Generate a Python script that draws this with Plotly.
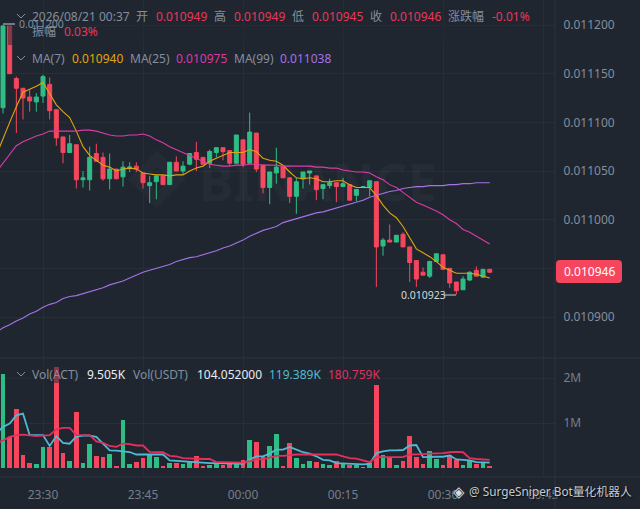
import numpy as np
import pandas as pd
import plotly.graph_objects as go

# ---- data (prices in millionths); the first candle lies just off the left edge ----
opens = [11095,11115,11199,11145,11135,11126,11121,11127,11139,11113,11085,11069,11077,11041,11041,11068,11064,11042,11052,11044,11053,11055,11048,11035,11039,11045,11036,11059,11050,11057,11069,11064,11058,11069,11074,11071,11058,11082,11058,11089,11056,11033,11048,11055,11043,11024,11042,11048,11045,11032,11035,11038,11034,11036,11025,11033,11033,11039,10973,10979,10977,10985,10972,10958,10946,10942,10957,10964,10950,10936,10928,10938,10948,10941,10949]
highs = [11118,11200,11199,11147,11135,11134,11130,11149,11146,11113,11085,11087,11077,11050,11075,11078,11069,11068,11052,11060,11059,11059,11048,11045,11045,11045,11059,11065,11060,11068,11080,11064,11072,11074,11074,11071,11087,11082,11110,11089,11056,11049,11074,11055,11043,11043,11049,11050,11045,11036,11042,11038,11043,11036,11031,11034,11040,11039,10981,10995,10984,10987,10972,10958,10951,10958,10965,10964,10950,10936,10942,10947,10952,10949,10949]
lows = [11090,11109,11150,11089,11103,11111,11111,11120,11103,11076,11058,11069,11032,11033,11030,11060,11040,11031,11042,11034,11049,11049,11032,11017,11021,11036,11036,11050,11046,11056,11050,11057,11053,11064,11061,11055,11058,11054,11058,11049,11027,11016,11037,11043,11017,11006,11032,11036,11020,11021,11032,11018,11034,11020,11019,11033,11024,10931,10963,10977,10977,10972,10936,10931,10943,10940,10957,10949,10930,10923,10928,10937,10942,10940,10945]
closes = [11115,11199,11150,11135,11125,11122,11126,11147,11112,11084,11069,11078,11041,11043,11064,11060,11042,11052,11042,11054,11054,11052,11038,11038,11045,11036,11059,11050,11055,11068,11062,11057,11070,11074,11070,11058,11087,11057,11090,11052,11033,11049,11054,11043,11024,11039,11049,11050,11031,11036,11038,11034,11037,11020,11031,11034,11040,10972,10979,10977,10984,10972,10956,10939,10943,10957,10965,10949,10935,10927,10939,10946,10942,10949,10946]
ma7 = [11066,11084,11100,11116,11131,11134,11137,11141,11130,11118,11111,11105,11091,11075,11066,11061,11056,11054,11050,11052,11053,11052,11048,11047,11046,11046,11045,11046,11046,11050,11053,11055,11060,11063,11066,11069,11069,11069,11072,11070,11063,11061,11060,11056,11049,11043,11042,11043,11042,11039,11039,11040,11040,11036,11033,11033,11033,11025,11015,11007,11002,10993,10982,10970,10966,10962,10957,10951,10948,10945,10945,10945,10944,10942,10940]
ma25 = [11049,11058,11066,11076,11080,11083,11086,11088,11091,11091,11091,11091,11091,11092,11092,11091,11089,11087,11086,11086,11087,11087,11088,11086,11082,11079,11075,11072,11069,11066,11063,11060,11057,11056,11055,11055,11056,11056,11057,11057,11056,11056,11056,11055,11055,11055,11055,11055,11054,11054,11053,11053,11051,11050,11049,11049,11048,11044,11041,11036,11033,11028,11023,11018,11015,11012,11009,11005,11000,10996,10990,10987,10983,10979,10975]
ma99 = [10884,10889,10892,10896,10899,10903,10906,10910,10913,10915,10919,10921,10922,10924,10926,10928,10930,10933,10935,10937,10940,10943,10946,10948,10950,10952,10954,10957,10959,10961,10962,10964,10966,10968,10971,10973,10976,10979,10983,10986,10989,10991,10993,10997,10999,11001,11003,11005,11007,11008,11010,11012,11014,11016,11018,11020,11023,11025,11027,11029,11030,11032,11033,11034,11034,11035,11035,11035,11036,11036,11037,11037,11038,11038,11038]
# ---- volumes (millions) ----
vol = [0.20,2.10,0.69,1.32,0.30,0.12,0.10,0.47,0.47,2.24,0.34,0.16,1.24,0.12,0.54,0.26,0.24,0.31,0.04,1.06,0.09,0.13,0.22,0.31,0.24,0.04,0.11,0.11,0.10,0.13,0.26,0.04,0.07,0.10,0.07,0.10,0.09,0.17,0.63,0.58,0.24,0.50,0.76,0.04,0.56,0.22,0.10,0.15,0.13,0.08,0.06,0.15,0.10,0.06,0.07,0.02,0.12,1.84,0.30,0.22,0.07,0.16,0.71,0.24,0.09,0.37,0.21,0.06,0.28,0.17,0.07,0.17,0.08,0.12,0.03]
vol_ma_a = [0.78,0.91,0.99,1.17,1.21,0.73,0.73,0.73,0.49,0.71,0.56,0.54,0.70,0.72,0.72,0.69,0.54,0.39,0.385,0.37,0.355,0.30,0.30,0.30,0.30,0.30,0.17,0.16,0.15,0.13,0.13,0.11,0.11,0.11,0.11,0.10,0.10,0.09,0.19,0.26,0.26,0.32,0.41,0.41,0.47,0.41,0.35,0.32,0.26,0.18,0.17,0.11,0.10,0.09,0.08,0.08,0.09,0.33,0.37,0.39,0.39,0.40,0.50,0.51,0.24,0.25,0.25,0.25,0.28,0.19,0.18,0.17,0.13,0.13,0.119]
vol_ma_b = [0.55,0.61,0.69,0.73,0.74,0.73,0.71,0.72,0.73,0.86,0.89,0.89,0.73,0.73,0.73,0.59,0.56,0.49,0.47,0.54,0.53,0.50,0.50,0.36,0.35,0.35,0.27,0.26,0.22,0.21,0.21,0.20,0.20,0.13,0.13,0.13,0.12,0.12,0.15,0.19,0.19,0.23,0.27,0.27,0.29,0.30,0.30,0.30,0.30,0.30,0.30,0.30,0.26,0.22,0.21,0.17,0.13,0.24,0.24,0.24,0.24,0.24,0.30,0.30,0.31,0.32,0.32,0.33,0.35,0.36,0.35,0.22,0.20,0.19,0.181]
price_ticks = [0.0109, 0.01095, 0.011, 0.01105, 0.0111, 0.01115, 0.0112]
# the 0.010950 label sits behind the last-price tag in the reference
price_tick_text = ["0.010900", "", "0.011000", "0.011050", "0.011100", "0.011150", "0.011200"]
vol_ticks = [1e6, 2e6]
vol_tick_text = ["1M", "2M"]

times = pd.date_range("2026-08-20 23:23", periods=len(opens), freq="min")
to_price = lambda a: np.array(a) / 1e6

BG = "#1f2630"
GRID = "#272e39"
BORDER = "#2c333f"
UP = "#2ebd85"
DOWN = "#f6465d"
GRAY = "#848e9c"
FONT = "Noto Sans, Noto Sans CJK SC, sans-serif"

# pixel layout
W, H, PW, PH = 640, 509, 555, 477
SPLIT_T, SPLIT_B = 358, 359
px = lambda x: x / PW
py = lambda y: (PH - y) / PH

fig = go.Figure()
fig.add_trace(go.Candlestick(
    x=times, open=to_price(opens), high=to_price(highs), low=to_price(lows), close=to_price(closes),
    increasing=dict(line=dict(color=UP, width=1), fillcolor=UP),
    decreasing=dict(line=dict(color=DOWN, width=1), fillcolor=DOWN),
    whiskerwidth=0, xaxis="x", yaxis="y", showlegend=False))
for series, col in ((ma7, "#e0a50e"), (ma25, "#dc3aa6"), (ma99, "#a472e6")):
    fig.add_trace(go.Scatter(x=times, y=to_price(series), mode="lines", showlegend=False,
                             line=dict(color=col, width=1.1), xaxis="x", yaxis="y"))
bar_cols = [UP if c >= o else DOWN for o, c in zip(opens, closes)]
fig.add_trace(go.Bar(x=times, y=np.array(vol) * 1e6, marker=dict(color=bar_cols, line=dict(width=0)),
                     width=60000 * 0.72, xaxis="x2", yaxis="y2", showlegend=False))
fig.add_trace(go.Scatter(x=times, y=np.array(vol_ma_a) * 1e6, mode="lines", showlegend=False,
                         line=dict(color="#52b9d3", width=1.8), xaxis="x2", yaxis="y2"))
fig.add_trace(go.Scatter(x=times, y=np.array(vol_ma_b) * 1e6, mode="lines", showlegend=False,
                         line=dict(color="#e0315f", width=1.8), xaxis="x2", yaxis="y2"))

t0 = pd.Timestamp("2026-08-20 23:30")
xr = [t0 + pd.Timedelta(minutes=-43 / 6.667), t0 + pd.Timedelta(minutes=(555 - 43) / 6.667)]
common_x = dict(range=xr, type="date", dtick=900000, tick0="2026-08-20 23:30:00", gridcolor=GRID,
                gridwidth=1, zeroline=False, showline=False, rangeslider=dict(visible=False))
p_at = lambda y: (11225.7 - 1.0274 * y) / 1e6
v_at = lambda y: (468 - y) / 45 * 1e6

fig.update_layout(
    width=W, height=H, margin=dict(l=0, r=W - PW, t=0, b=H - PH),
    paper_bgcolor=BG, plot_bgcolor=BG, bargap=0, boxgap=0.2, boxgroupgap=0.25,
    font=dict(family=FONT, size=12, color=GRAY),
    xaxis=dict(**common_x, domain=[0, 1], anchor="y", showticklabels=False),
    xaxis2=dict(**common_x, domain=[0, 1], anchor="y2", matches="x", tickformat="%H:%M",
                ticks="outside", ticklen=7, tickcolor=BG, tickfont=dict(size=12, color="#767e8b")),
    yaxis=dict(domain=[py(SPLIT_T), 1], range=[p_at(SPLIT_T), p_at(0)], side="right", tickvals=price_ticks,
               ticktext=price_tick_text, gridcolor=GRID, zeroline=False, ticks="outside", ticklen=5, tickcolor=BG,
               tickfont=dict(size=12, color=GRAY), anchor="x"),
    yaxis2=dict(domain=[0, py(SPLIT_B)], range=[v_at(PH), v_at(SPLIT_B)], side="right", tickvals=vol_ticks,
                ticktext=vol_tick_text, gridcolor=GRID, zeroline=False, ticks="outside", ticklen=5, tickcolor=BG,
                tickfont=dict(size=12, color="#767e8b"), anchor="x2"),
)

shapes = []
# translucent legend backgrounds
for x0, y0, x1, y1 in ((8, 4, 505, 45), (8, 365, 385, 383)):
    shapes.append(dict(type="rect", xref="paper", yref="paper", x0=px(x0), x1=px(x1), y0=py(y0), y1=py(y1),
                       fillcolor=BG, opacity=0.5, line_width=0, layer="above"))
# separators
for y in (358, 477):
    shapes.append(dict(type="line", xref="paper", yref="paper", x0=0, x1=px(W), y0=py(y), y1=py(y),
                       line=dict(color=BORDER, width=1)))
shapes.append(dict(type="line", xref="paper", yref="paper", x0=1, x1=1, y0=py(0), y1=py(H),
                   line=dict(color=BORDER, width=1)))
# min/max markers
shapes.append(dict(type="line", xref="paper", yref="paper", x0=px(3), x1=px(15), y0=py(24), y1=py(24),
                   line=dict(color="#c8ccd2", width=1)))
shapes.append(dict(type="line", xref="paper", yref="paper", x0=px(444), x1=px(456), y0=py(295), y1=py(295),
                   line=dict(color="#c8ccd2", width=1)))
# price tag (rounded)
def rr(x0, y0, x1, y1, r):
    a, b, c, d = px(x0), px(x1), py(y0), py(y1)
    rx, ry = r / PW, r / PH
    return (f"M{a+rx},{c} L{b-rx},{c} Q{b},{c} {b},{c-ry} L{b},{d+ry} Q{b},{d} {b-rx},{d} "
            f"L{a+rx},{d} Q{a},{d} {a},{d+ry} L{a},{c-ry} Q{a},{c} {a+rx},{c} Z")
shapes.append(dict(type="path", xref="paper", yref="paper", path=rr(556, 260, 622, 283, 4),
                   fillcolor="#f6465d", line_width=0, layer="above"))
# watermark diamond
cx, cy, s = 157, 179, 29
def diamond(cx, cy, s):
    return f"M{px(cx-s)},{py(cy)} L{px(cx)},{py(cy-s)} L{px(cx+s)},{py(cy)} L{px(cx)},{py(cy+s)} Z"
shapes.append(dict(type="path", xref="paper", yref="paper", path=diamond(cx, cy, s),
                   fillcolor="rgba(255,255,255,0.028)", line_width=0, layer="below"))
shapes.append(dict(type="path", xref="paper", yref="paper", path=diamond(cx, cy, s * 0.42),
                   fillcolor=BG, line_width=0, layer="below"))
# chevrons
for y in (16, 58, 374):
    shapes.append(dict(type="path", xref="paper", yref="paper",
                       path=f"M{px(17)},{py(y-2)} L{px(21)},{py(y+2)} L{px(25)},{py(y-2)}",
                       line=dict(color=GRAY, width=1)))
fig.update_layout(shapes=shapes)

def note(x, y, text, color=GRAY, size=12, anchor="left", **font):
    fig.add_annotation(xref="paper", yref="paper", x=px(x), y=py(y), text=text, showarrow=False,
                       xanchor=anchor, yanchor="middle", borderpad=0, align="left",
                       font=dict(family=FONT, size=size, color=color, **font))

RED = "#e8385a"
note(31, 16, "2026/08/21 00:37")
for x, t in ((135, "开"), (213, "高"), (291, "低"), (369, "收"), (447, "涨跌幅")):
    note(x, 16, t)
for x, t in ((155, "0.010949"), (233, "0.010949"), (311, "0.010945"), (389, "0.010946"), (491, "-0.01%")):
    note(x, 16, t, RED)
note(31, 32, "振幅")
note(63, 32, "0.03%", RED)
note(31, 58, "MA(7)")
note(71, 58, "0.010940", "#e0a50e")
note(129, 58, "MA(25)")
note(175, 58, "0.010975", "#dc3aa6")
note(233, 58, "MA(99)")
note(279, 58, "0.011038", "#a472e6")
note(31, 374, "Vol(ACT)")
note(86, 374, "9.505K", "#eaecef")
note(132, 374, "Vol(USDT)")
note(196, 374, "104.052000", "#eaecef")
note(268, 374, "119.389K", "#52b9d3")
note(327, 374, "180.759K", "#e0315f")
note(18, 24, "0.011200", "#868d99", size=10.5)
note(400, 295, "0.010923", "#d5d8dc", size=10.5)
note(563, 271.5, "0.010946", "#ffffff")
note(198, 180, "BINANCE", "rgba(255,255,255,0.03)", size=52, weight="bold")
note(459, 491, "◈", "#d8dbdf", size=15, anchor="center")
note(468, 491, "@ SurgeSniper Bot量化机器人", "#c6cad0", size=11.8, shadow="1px 1px 2px #000")

fig.write_html("out.html", config=dict(displayModeBar=False),
               post_script="document.body.style.margin='0';document.body.style.background='" + BG + "';")
